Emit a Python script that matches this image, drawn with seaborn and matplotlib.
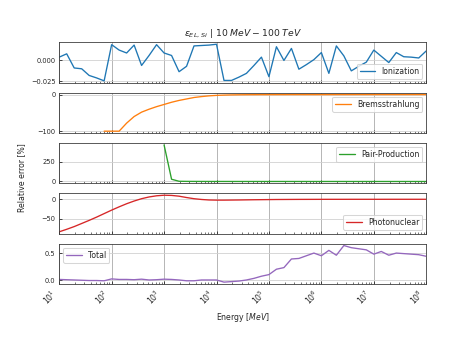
import numpy as np
import matplotlib
matplotlib.use('Agg')
import matplotlib.pyplot as plt
import seaborn as sns

# energy grid, log10(E / MeV)
log_energy = [1.000, 1.143, 1.286, 1.429, 1.571, 1.714, 1.857,
              2.000, 2.143, 2.286, 2.429, 2.571, 2.714, 2.857,
              3.000, 3.143, 3.286, 3.429, 3.571, 3.714, 3.857,
              4.000, 4.143, 4.286, 4.429, 4.571, 4.714, 4.857,
              5.000, 5.143, 5.286, 5.429, 5.571, 5.714, 5.857,
              6.000, 6.143, 6.286, 6.429, 6.571, 6.714, 6.857,
              7.000, 7.143, 7.286, 7.429, 7.571, 7.714, 7.857,
              8.000]

ionization = [0.004, 0.008, -0.009, -0.010, -0.018, -0.021, -0.0245,
              0.019, 0.0125, 0.009, 0.0185, -0.006, 0.006, 0.019,
              0.009, 0.006, -0.0135, -0.007, 0.0175, 0.018, 0.0185,
              0.0195, -0.024, -0.024, -0.020, -0.0155, -0.006, 0.004,
              -0.0195, 0.0165, 0.0, 0.0145, -0.0105, -0.005, 0.001,
              0.0095, -0.0155, 0.0175, 0.0055, -0.0125, -0.007, -0.002,
              0.0125, 0.005, -0.0025, 0.0095, 0.0045, 0.004, 0.003,
              0.0115]

bremsstrahlung = [np.nan] * 6 + [
    -100, -100, -100, -78, -60, -48, -40, -33, -27, -21, -16, -12, -8,
    -5.5, -3.5, -2.2, -1.4, -0.9, -0.6, -0.4, -0.3,
    -0.2, -0.2, -0.15, -0.15, -0.1, -0.1, -0.1, -0.1,
    -0.05, -0.05, -0.05, -0.05, -0.05,
    0, 0, 0, 0, 0, 0, 0, 0, 0, 0]

pair_production = [np.nan] * 14 + [
    460, 28, 3, 1.5, 1.0, 0.8, 0.6, 0.5, 0.45, 0.4, 0.4, 0.35, 0.35,
    0.3, 0.3, 0.3, 0.25, 0.25, 0.25, 0.2, 0.2, 0.2, 0.2, 0.2, 0.15,
    0.15, 0.15, 0.15, 0.15, 0.1, 0.1, 0.1, 0.1, 0.1, 0.1, 0.1]

photonuclear = [-84, -77.5, -70.5, -62.5, -54.5, -46, -37, -28, -19.5,
                -11.5, -4.5, 1.5, 6, 9, 10.5, 10, 8, 4.5, 1.5, -0.5,
                -1.8, -2.2, -2.2, -2.0, -1.8, -1.5, -1.2, -1.0, -0.8,
                -0.6, -0.5, -0.4, -0.3, -0.25, -0.2,
                -0.15, -0.1, -0.1, -0.1, -0.05, -0.05, -0.05, -0.05,
                -0.05, 0, 0, 0, 0, 0, 0]

total = [0.01, 0.005, 0.0, -0.005, -0.01, -0.01, -0.015, 0.02, 0.01,
         0.01, 0.005, 0.015, 0.0, 0.005, 0.015, 0.01, 0.0, -0.015,
         -0.015, 0.0, 0.0, 0.0, -0.04, -0.03, -0.02, 0.0, 0.03, 0.07,
         0.1, 0.2, 0.23, 0.39, 0.4, 0.45, 0.5, 0.45, 0.55, 0.46, 0.64,
         0.6, 0.58, 0.56, 0.48, 0.53, 0.46, 0.5, 0.49, 0.48, 0.47, 0.44]

names = ['Ionization', 'Bremsstrahlung', 'Pair-Production', 'Photonuclear', 'Total']
legend_locs = ['lower right', 'upper right', 'upper right', 'lower right', 'upper left']
yticks = [[-0.025, 0.0], [-100, 0], [0, 250], [-50, 0], [0.0, 0.5]]
decades = [1e1, 1e2, 1e3, 1e4, 1e5, 1e6, 1e7, 1e8]

energy = 10 ** np.array(log_energy)

sns.set_style('ticks', {'axes.grid': True, 'grid.color': '#c8c8c8',
                        'xtick.direction': 'in', 'ytick.direction': 'in',
                        'axes.edgecolor': '#3a3a3a'})
colors = sns.color_palette('tab10')

fig, axes = plt.subplots(5, 1, figsize=(6.4, 4.8), dpi=74, sharex=True)
fig.subplots_adjust(left=0.125, right=0.9, top=0.88, bottom=0.2, hspace=0.25)

series = [ionization, bremsstrahlung, pair_production, photonuclear, total]
for i, ax in enumerate(axes):
    ax.set_xscale('log')
    sns.lineplot(x=energy, y=series[i], ax=ax, color=colors[i], label=names[i], lw=1.3)
    ax.set_xticks(decades)
    ax.set_xlim(10, 1e8)
    ax.set_yticks(yticks[i])
    ax.tick_params(labelsize=6.5, length=3)
    ax.tick_params(which='minor', length=2)
    ax.grid(True, which='major', axis='x', color='#a8a8a8', lw=0.8)
    ax.grid(True, which='major', axis='y', color='#d0d0d0', lw=0.8)
    ax.legend(loc=legend_locs[i], fontsize=7.5)

axes[0].set_title(r'$\epsilon_{EL,Si}$ | $10\ MeV - 100\ TeV$', fontsize=9)
axes[-1].set_xlabel(r'Energy [$MeV$]', fontsize=7.5)
axes[-1].tick_params(axis='x', labelsize=7.5)
plt.setp(axes[-1].get_xticklabels(), rotation=45, ha='right')
fig.text(0.045, 0.5, 'Relative error [%]', rotation=90, va='center', ha='center', fontsize=7.5)

fig.savefig('out.png', dpi=74)
